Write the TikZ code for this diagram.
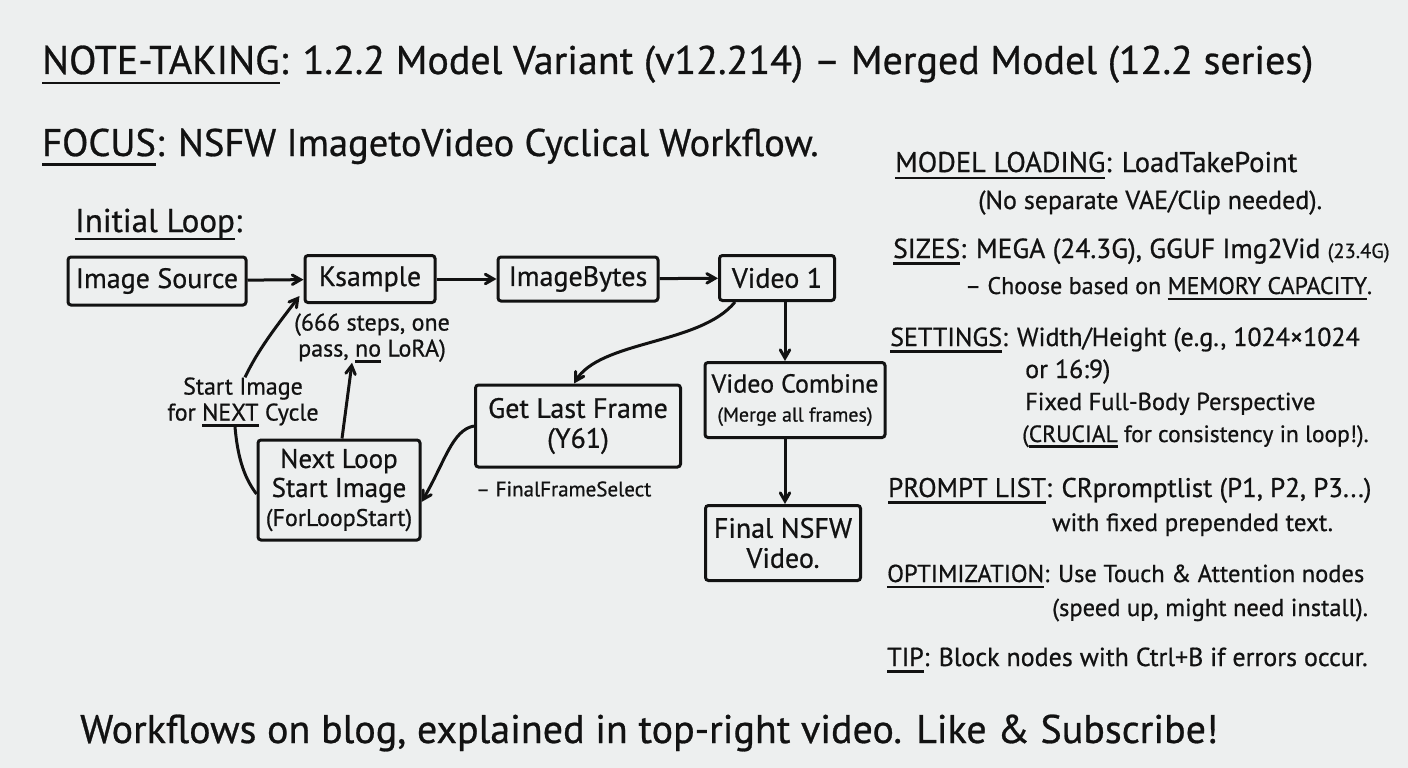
\documentclass[tikz,border=0pt]{standalone}
\usepackage{fontspec}
\setmainfont{PT Sans}[FakeBold=0.7]
\usetikzlibrary{arrows}

\definecolor{board}{RGB}{237,239,239}
\definecolor{ink}{RGB}{18,18,18}
\newcommand{\sz}[2]{\fontsize{#1}{#2}\selectfont}
\newsavebox{\hulbox}
\newcommand{\hul}[1]{\sbox{\hulbox}{#1}\rlap{\raisebox{-0.25em}{\rule{\wd\hulbox}{2.4pt}}}\usebox{\hulbox}}

\begin{document}
\begin{tikzpicture}
	[x=1pt,y=-1pt,>=angle 60,ink,
	box/.style={draw, line width=3pt, rounded corners=3pt, align=center, inner sep=2pt, font=\sz{28}{30}},
	flow/.style={->, line width=3pt},
	note/.style={align=center, inner sep=0pt, font=\sz{24}{26}},
	side/.style={anchor=base west, inner sep=0pt, font=\sz{26}{30}}]
	\fill[board] (0,0) rectangle (1408,768);
	\useasboundingbox (0,0) rectangle (1408,768);

	% headings
	\node[anchor=base west, inner sep=0pt, font=\sz{40}{44}] (title) at (42,74) {\hul{NOTE-TAKING}: 1.2.2 Model Variant (v12.214) – Merged Model (12.2 series)};
	\node[anchor=base west, inner sep=0pt, font=\sz{38.5}{42}] (focus) at (42,156) {\hul{FOCUS}: NSFW ImagetoVideo Cyclical Workflow.};
	\node[anchor=base west, inner sep=0pt, font=\sz{33}{36}] (initial) at (75,232) {\hul{Initial Loop}:};

	% loop boxes
	\node[box, minimum width=178, minimum height=48] (source) at (157,281) {Image Source};
	\node[box, minimum width=130, minimum height=47] (ksample) at (370,279) {Ksample};
	\node[box, minimum width=160, minimum height=44] (bytes) at (578,279) {ImageBytes};
	\node[box, minimum width=115, minimum height=45] (video) at (777,278) {Video 1};
	\node[box, minimum width=180, minimum height=75, font=\sz{26}{29}] (combine) at (795,400) {Video Combine\\{\sz{20}{24}(Merge all frames)}};
	\node[box, minimum width=155, minimum height=75] (final) at (783,543) {Final NSFW\\Video.};
	\node[box, minimum width=205, minimum height=82] (lastframe) at (578,426) {Get Last Frame\\(Y61)};
	\node[box, minimum width=162, minimum height=100, font=\sz{27}{29}] (nextloop) at (339,490) {Next Loop\\Start Image\\{\sz{24}{28}(ForLoopStart)}};

	\node[note] (steps) at (372,338) {(666 steps, one\\pass, \hul{no} LoRA)};
	\node[note] (startlbl) at (243,402) {Start Image\\for \hul{NEXT} Cycle};
	\node[note, anchor=west, font=\sz{21}{25}] (select) at (476,489) {– FinalFrameSelect};

	\draw[flow] (source) -- (ksample);
	\draw[flow] (ksample) -- (bytes);
	\draw[flow] (bytes) -- (video);
	\draw[flow] ([xshift=8]video.south) -- ([xshift=-10]combine.north);
	\draw[flow] ([xshift=-10]combine.south) -- ([xshift=2]final.north);
	\draw[flow] ([xshift=-42]video.south) .. controls (700,345) and (600,340) .. ([xshift=-4]lastframe.north);
	\draw[flow] (lastframe.west) .. controls (452,430) and (445,462) .. ([yshift=-12]nextloop.east);
	\draw[flow] ([xshift=3]nextloop.north) -- ([xshift=-20]steps.south);
	\draw[flow] ([xshift=2]startlbl.north) .. controls (258,350) and (275,328) .. ([xshift=-4,yshift=8]ksample.south west);
	\draw[line width=3pt] ([xshift=-8]startlbl.south) .. controls (238,462) and (246,480) .. ([yshift=-4]nextloop.west);

	% side notes
	\node[side, font=\sz{28.5}{30}] (loading) at (895,172) {\hul{MODEL LOADING}: LoadTakePoint};
	\node[side] (loading2) at (978,209) {(No separate VAE/Clip needed).};
	\node[side, font=\sz{27.5}{30}] (sizes) at (893,258) {\hul{SIZES}: MEGA (24.3G), GGUF Img2Vid {\sz{20.5}{25}(23.4G)}};
	\node[side, font=\sz{24}{30}] (sizes2) at (965,294) {– Choose based on \hul{MEMORY CAPACITY}.};
	\node[side] (settings) at (890,346) {\hul{SETTINGS}: Width/Height (e.g., 1024×1024};
	\node[side] (settings2) at (1025,378) {or 16:9)};
	\node[side, font=\sz{24.5}{30}] (settings3) at (1025,410) {Fixed Full-Body Perspective};
	\node[side, font=\sz{23.5}{30}] (settings4) at (1022,442) {(\hul{CRUCIAL} for consistency in loop!).};
	\node[side, font=\sz{27}{30}] (prompt) at (888,497) {\hul{PROMPT LIST}: CRpromptlist (P1, P2, P3...)};
	\node[side, font=\sz{25}{30}] (prompt2) at (1052,531) {with fixed prepended text.};
	\node[side, font=\sz{24.5}{30}] (optim) at (887,582) {\hul{OPTIMIZATION}: Use Touch \& Attention nodes};
	\node[side, font=\sz{24.5}{30}] (optim2) at (1052,616) {(speed up, might need install).};
	\node[side] (tip) at (887,666) {\hul{TIP}: Block nodes with Ctrl+B if errors occur.};

	\node[anchor=base west, inner sep=0pt, font=\sz{40}{44}] (footer) at (80,743) {Workflows on blog, explained in top-right video. Like \& Subscribe!};
\end{tikzpicture}
\end{document}
